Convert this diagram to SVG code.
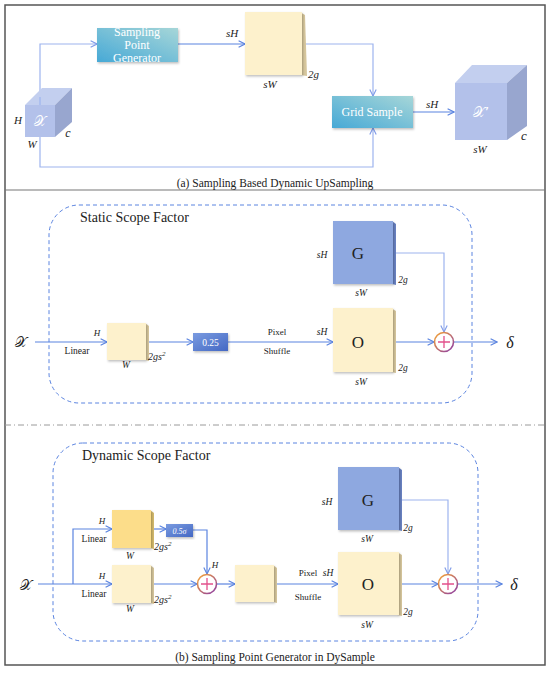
<svg xmlns="http://www.w3.org/2000/svg" width="550" height="673" viewBox="0 0 550 673">
<defs>
<style>
.t{font-family:"Liberation Serif","DejaVu Serif",serif;fill:#222}
.i{font-family:"Liberation Serif","DejaVu Serif",serif;font-style:italic;fill:#222}
.w{font-family:"Liberation Serif","DejaVu Serif",serif;fill:#fff}
.m{font-family:"DejaVu Sans","DejaVu Serif","Noto Sans",serif}
.ln{fill:none;stroke:#5B84E0;stroke-width:1.2}
.lt{fill:none;stroke:#9DB4EE;stroke-width:1.2}
.cream{fill:#FDF1CC}
.creamS{fill:#D6C69C}
.gold{fill:#FCDD8A}
.goldS{fill:#D4BA6C}
.blue{fill:#8EA8E0}
.blueS{fill:#6982C2}
.dash{fill:none;stroke:#5B84E0;stroke-width:1;stroke-dasharray:4,3}
</style>
<marker id="a" viewBox="0 0 10 10" refX="9" refY="5" markerWidth="8" markerHeight="8" orient="auto" markerUnits="userSpaceOnUse">
<polyline points="1,1 9,5 1,9" fill="none" stroke="#5B84E0" stroke-width="1.4"/>
</marker>
<marker id="al" viewBox="0 0 10 10" refX="9" refY="5" markerWidth="8" markerHeight="8" orient="auto" markerUnits="userSpaceOnUse">
<polyline points="1,1 9,5 1,9" fill="none" stroke="#7F9BE8" stroke-width="1.4"/>
</marker>
<linearGradient id="teal" x1="0" y1="1" x2="1" y2="0">
<stop offset="0" stop-color="#47A9D6"/>
<stop offset="1" stop-color="#A6D6D8"/>
</linearGradient>
<linearGradient id="bbox" x1="0" y1="0" x2="1" y2="1">
<stop offset="0" stop-color="#7A9BE0"/>
<stop offset="1" stop-color="#4468C4"/>
</linearGradient>
<linearGradient id="ring" x1="0" y1="0" x2="1" y2="1">
<stop offset="0" stop-color="#F7A631"/>
<stop offset="1" stop-color="#8A3AA8"/>
</linearGradient>
<filter id="sh" x="-20%" y="-20%" width="140%" height="140%">
<feDropShadow dx="1" dy="1.5" stdDeviation="1.2" flood-color="#000" flood-opacity="0.25"/>
</filter>
<g id="plus">
<circle cx="0" cy="0" r="9.5" fill="#fff" stroke="url(#ring)" stroke-width="1.6"/>
<path d="M-6,0H6M0,-6V6" stroke="#E2508C" stroke-width="1.3"/>
</g>
</defs>
<rect x="0" y="0" width="550" height="673" fill="#fff"/>
<rect x="5" y="5" width="540" height="660" fill="none" stroke="#555" stroke-width="1.5"/>
<line x1="5" y1="190" x2="545" y2="190" stroke="#777" stroke-width="1.2"/>
<line x1="5" y1="425" x2="545" y2="425" stroke="#9a9a9a" stroke-width="1" stroke-dasharray="6,3,1,3"/>

<g id="connectors">
<polyline class="lt" points="40,100 40,44 97,44" marker-end="url(#al)"/>
<line class="ln" x1="178" y1="44" x2="245" y2="44" marker-end="url(#a)"/>
<polyline class="lt" points="304,44 373,44 373,96" marker-end="url(#al)"/>
<polyline class="lt" points="40,137 40,167 373,167 373,128" marker-end="url(#al)"/>
<line class="ln" x1="413" y1="112" x2="454" y2="112" marker-end="url(#a)"/>
<line class="ln" x1="35" y1="342" x2="107" y2="342" marker-end="url(#a)"/>
<line class="ln" x1="148" y1="342" x2="193" y2="342" marker-end="url(#a)"/>
<line class="ln" x1="228" y1="342" x2="333" y2="342" marker-end="url(#a)"/>
<polyline class="lt" points="394,253 444,253 444,332" marker-end="url(#al)"/>
<line class="ln" x1="394" y1="342" x2="434" y2="342" marker-end="url(#a)"/>
<line class="ln" x1="454" y1="342" x2="497" y2="342" marker-end="url(#a)"/>
<line class="ln" x1="38" y1="584" x2="112" y2="584" marker-end="url(#a)"/>
<polyline class="ln" points="73,584 73,529 112,529" marker-end="url(#a)"/>
<line class="ln" x1="153" y1="529" x2="166" y2="529" marker-end="url(#a)"/>
<polyline class="ln" points="193,530 207,530 207,574" marker-end="url(#a)"/>
<line class="ln" x1="153" y1="584" x2="197" y2="584" marker-end="url(#a)"/>
<line class="ln" x1="217" y1="584" x2="235" y2="584" marker-end="url(#a)"/>
<line class="ln" x1="276" y1="584" x2="338" y2="584" marker-end="url(#a)"/>
<polyline class="lt" points="400,500 448,500 448,574" marker-end="url(#al)"/>
<line class="ln" x1="400" y1="584" x2="438" y2="584" marker-end="url(#a)"/>
<line class="ln" x1="458" y1="584" x2="502" y2="584" marker-end="url(#a)"/>
</g>

<g id="input-cube">
<polygon points="25,105 42,88 72,88 55,105" fill="#C3CFEF"/>
<polygon points="55,105 72,88 72,122 55,137" fill="#98A6CF"/>
<rect x="25" y="105" width="30" height="32" fill="#B3C1EA"/>
<line x1="40" y1="97" x2="40" y2="105" stroke="#9DB4EE" stroke-width="1.2"/>
<text class="m" x="40" y="126" font-size="14" fill="#fff" text-anchor="middle">𝒳</text>
<text class="i" x="18" y="124" font-size="11" text-anchor="middle">H</text>
<text class="i" x="32" y="148" font-size="11" text-anchor="middle">W</text>
<text class="i" x="68" y="137" font-size="12" text-anchor="middle">c</text>
</g>
<g id="sampling-point-generator">
<rect x="97" y="28" width="81" height="34" fill="url(#teal)" filter="url(#sh)"/>
<text class="w" x="137" y="36" font-size="12" text-anchor="middle">Sampling</text>
<text class="w" x="137" y="49" font-size="12" text-anchor="middle">Point</text>
<text class="w" x="137" y="62" font-size="12" text-anchor="middle">Generator</text>
</g>
<g id="offset-a">
<polygon points="300,12 305,15 307,76 300,75" class="creamS"/>
<rect x="245" y="12" width="57" height="63" class="cream" filter="url(#sh)"/>
<text class="i" x="232" y="37" font-size="11" text-anchor="middle">sH</text>
<text class="i" x="308" y="78" font-size="11">2g</text>
<text class="i" x="270" y="88" font-size="11" text-anchor="middle">sW</text>
</g>
<g id="grid-sample">
<rect x="332" y="96" width="81" height="32" fill="url(#teal)" filter="url(#sh)"/>
<text class="w" x="372" y="116" font-size="12" text-anchor="middle">Grid Sample</text>
<text class="i" x="432" y="108" font-size="11" text-anchor="middle">sH</text>
</g>
<g id="output-cube">
<polygon points="455,83 472,65 527,65 507,83" fill="#C3CFEF"/>
<polygon points="507,83 527,65 527,126 507,140" fill="#98A6CF"/>
<rect x="455" y="83" width="52" height="57" fill="#B3C1EA"/>
<text class="m" x="481" y="117" font-size="14" fill="#fff" text-anchor="middle">𝒳’</text>
<text class="i" x="524" y="140" font-size="13" text-anchor="middle">c</text>
<text class="i" x="480" y="153" font-size="11" text-anchor="middle">sW</text>
</g>
<text class="t" x="275" y="187" font-size="11.5" text-anchor="middle">(a) Sampling Based Dynamic UpSampling</text>

<g id="static-scope">
<rect class="dash" x="49" y="205" width="423" height="198" rx="30"/>
<text class="t" x="80" y="222" font-size="14">Static Scope Factor</text>
</g>
<g id="static-input">
<text class="m" x="21" y="347" font-size="14" text-anchor="middle" fill="#222">𝒳</text>
<text class="i" x="97" y="336" font-size="9" text-anchor="middle">H</text>
<text class="t" x="77" y="354" font-size="9.5" text-anchor="middle">Linear</text>
</g>
<g id="static-linear-out">
<polygon points="145,323 149,326 149,361 145,360" class="creamS"/>
<rect x="107" y="323" width="39" height="37" class="cream" filter="url(#sh)"/>
<text class="i" x="126" y="368" font-size="9.5" text-anchor="middle">W</text>
<text class="i" x="148" y="360" font-size="10">2gs<tspan font-size="7" dy="-4">2</tspan></text>
</g>
<g id="static-scale">
<rect x="193" y="333" width="35" height="18" fill="url(#bbox)" filter="url(#sh)"/>
<text class="w" x="210.5" y="345.5" font-size="9.5" text-anchor="middle">0.25</text>
</g>
<g id="static-pixel-shuffle">
<text class="t" x="277" y="335" font-size="9" text-anchor="middle">Pixel</text>
<text class="t" x="277" y="354" font-size="9" text-anchor="middle">Shuffle</text>
<text class="i" x="322" y="335" font-size="9.5" text-anchor="middle">sH</text>
</g>
<g id="static-G">
<polygon points="392,221 396,224 396,285 392,284" class="blueS"/>
<rect x="333" y="221" width="60" height="63" class="blue" filter="url(#sh)"/>
<text class="t" x="358" y="259" font-size="17" text-anchor="middle">G</text>
<text class="i" x="322" y="258" font-size="9.5" text-anchor="middle">sH</text>
<text class="i" x="403" y="283" font-size="9.5" text-anchor="middle">2g</text>
<text class="i" x="361" y="296" font-size="9.5" text-anchor="middle">sW</text>
</g>
<g id="static-O">
<polygon points="391,308 396,311 396,373 391,372" class="creamS"/>
<rect x="333" y="308" width="60" height="64" class="cream" filter="url(#sh)"/>
<text class="t" x="358" y="348" font-size="17" text-anchor="middle">O</text>
<text class="i" x="403" y="371" font-size="9.5" text-anchor="middle">2g</text>
<text class="i" x="361" y="385" font-size="9.5" text-anchor="middle">sW</text>
</g>
<g id="static-add"><use href="#plus" x="444" y="342"/></g>
<g id="static-out"><text class="i" x="510" y="348" font-size="16" text-anchor="middle">δ</text></g>

<g id="dynamic-scope">
<rect class="dash" x="53" y="443" width="425" height="198" rx="30"/>
<text class="t" x="82" y="460" font-size="14">Dynamic Scope Factor</text>
</g>
<g id="dynamic-input">
<text class="m" x="26" y="590" font-size="14" text-anchor="middle" fill="#222">𝒳</text>
</g>
<g id="dynamic-linear-top">
<polygon points="150,510 154,513 154,549 150,548" class="goldS"/>
<rect x="112" y="510" width="39" height="38" class="gold" filter="url(#sh)"/>
<text class="i" x="102" y="524" font-size="9" text-anchor="middle">H</text>
<text class="t" x="94" y="542" font-size="9.5" text-anchor="middle">Linear</text>
<text class="i" x="130" y="559" font-size="9.5" text-anchor="middle">W</text>
<text class="i" x="154" y="550" font-size="10">2gs<tspan font-size="7" dy="-4">2</tspan></text>
</g>
<g id="dynamic-scale">
<rect x="166" y="524" width="27" height="13" fill="url(#bbox)" filter="url(#sh)"/>
<text class="w" x="179.5" y="533.5" font-size="8" font-style="italic" text-anchor="middle">0.5σ</text>
</g>
<g id="dynamic-linear-bottom">
<polygon points="150,565 154,568 154,604 150,603" class="creamS"/>
<rect x="112" y="565" width="39" height="38" class="cream" filter="url(#sh)"/>
<text class="i" x="102" y="579" font-size="9" text-anchor="middle">H</text>
<text class="t" x="94" y="597" font-size="9.5" text-anchor="middle">Linear</text>
<text class="i" x="130" y="612" font-size="9.5" text-anchor="middle">W</text>
<text class="i" x="154" y="603" font-size="10">2gs<tspan font-size="7" dy="-4">2</tspan></text>
</g>
<g id="dynamic-add1">
<use href="#plus" x="207" y="584"/>
<text class="i" x="215" y="568" font-size="9" text-anchor="middle">H</text>
</g>
<g id="dynamic-sum">
<polygon points="273,565 277,568 277,603 273,602" class="creamS"/>
<rect x="235" y="565" width="39" height="37" class="cream" filter="url(#sh)"/>
</g>
<g id="dynamic-pixel-shuffle">
<text class="t" x="308" y="576" font-size="9" text-anchor="middle">Pixel</text>
<text class="i" x="328" y="576" font-size="9.5" text-anchor="middle">sH</text>
<text class="t" x="308" y="600" font-size="9" text-anchor="middle">Shuffle</text>
</g>
<g id="dynamic-G">
<polygon points="398,467 402,470 402,531 398,530" class="blueS"/>
<rect x="338" y="467" width="61" height="63" class="blue" filter="url(#sh)"/>
<text class="t" x="368" y="506" font-size="17" text-anchor="middle">G</text>
<text class="i" x="327" y="505" font-size="9.5" text-anchor="middle">sH</text>
<text class="i" x="408" y="531" font-size="9.5" text-anchor="middle">2g</text>
<text class="i" x="367" y="542" font-size="9.5" text-anchor="middle">sW</text>
</g>
<g id="dynamic-O">
<polygon points="397,552 402,555 402,616 397,615" class="creamS"/>
<rect x="338" y="552" width="61" height="63" class="cream" filter="url(#sh)"/>
<text class="t" x="368" y="590" font-size="17" text-anchor="middle">O</text>
<text class="i" x="408" y="615" font-size="9.5" text-anchor="middle">2g</text>
<text class="i" x="367" y="628" font-size="9.5" text-anchor="middle">sW</text>
</g>
<g id="dynamic-add2"><use href="#plus" x="448" y="584"/></g>
<g id="dynamic-out"><text class="i" x="514" y="590" font-size="16" text-anchor="middle">δ</text></g>
<text class="t" x="275" y="661" font-size="11.5" text-anchor="middle">(b) Sampling Point Generator in DySample</text>
</svg>
